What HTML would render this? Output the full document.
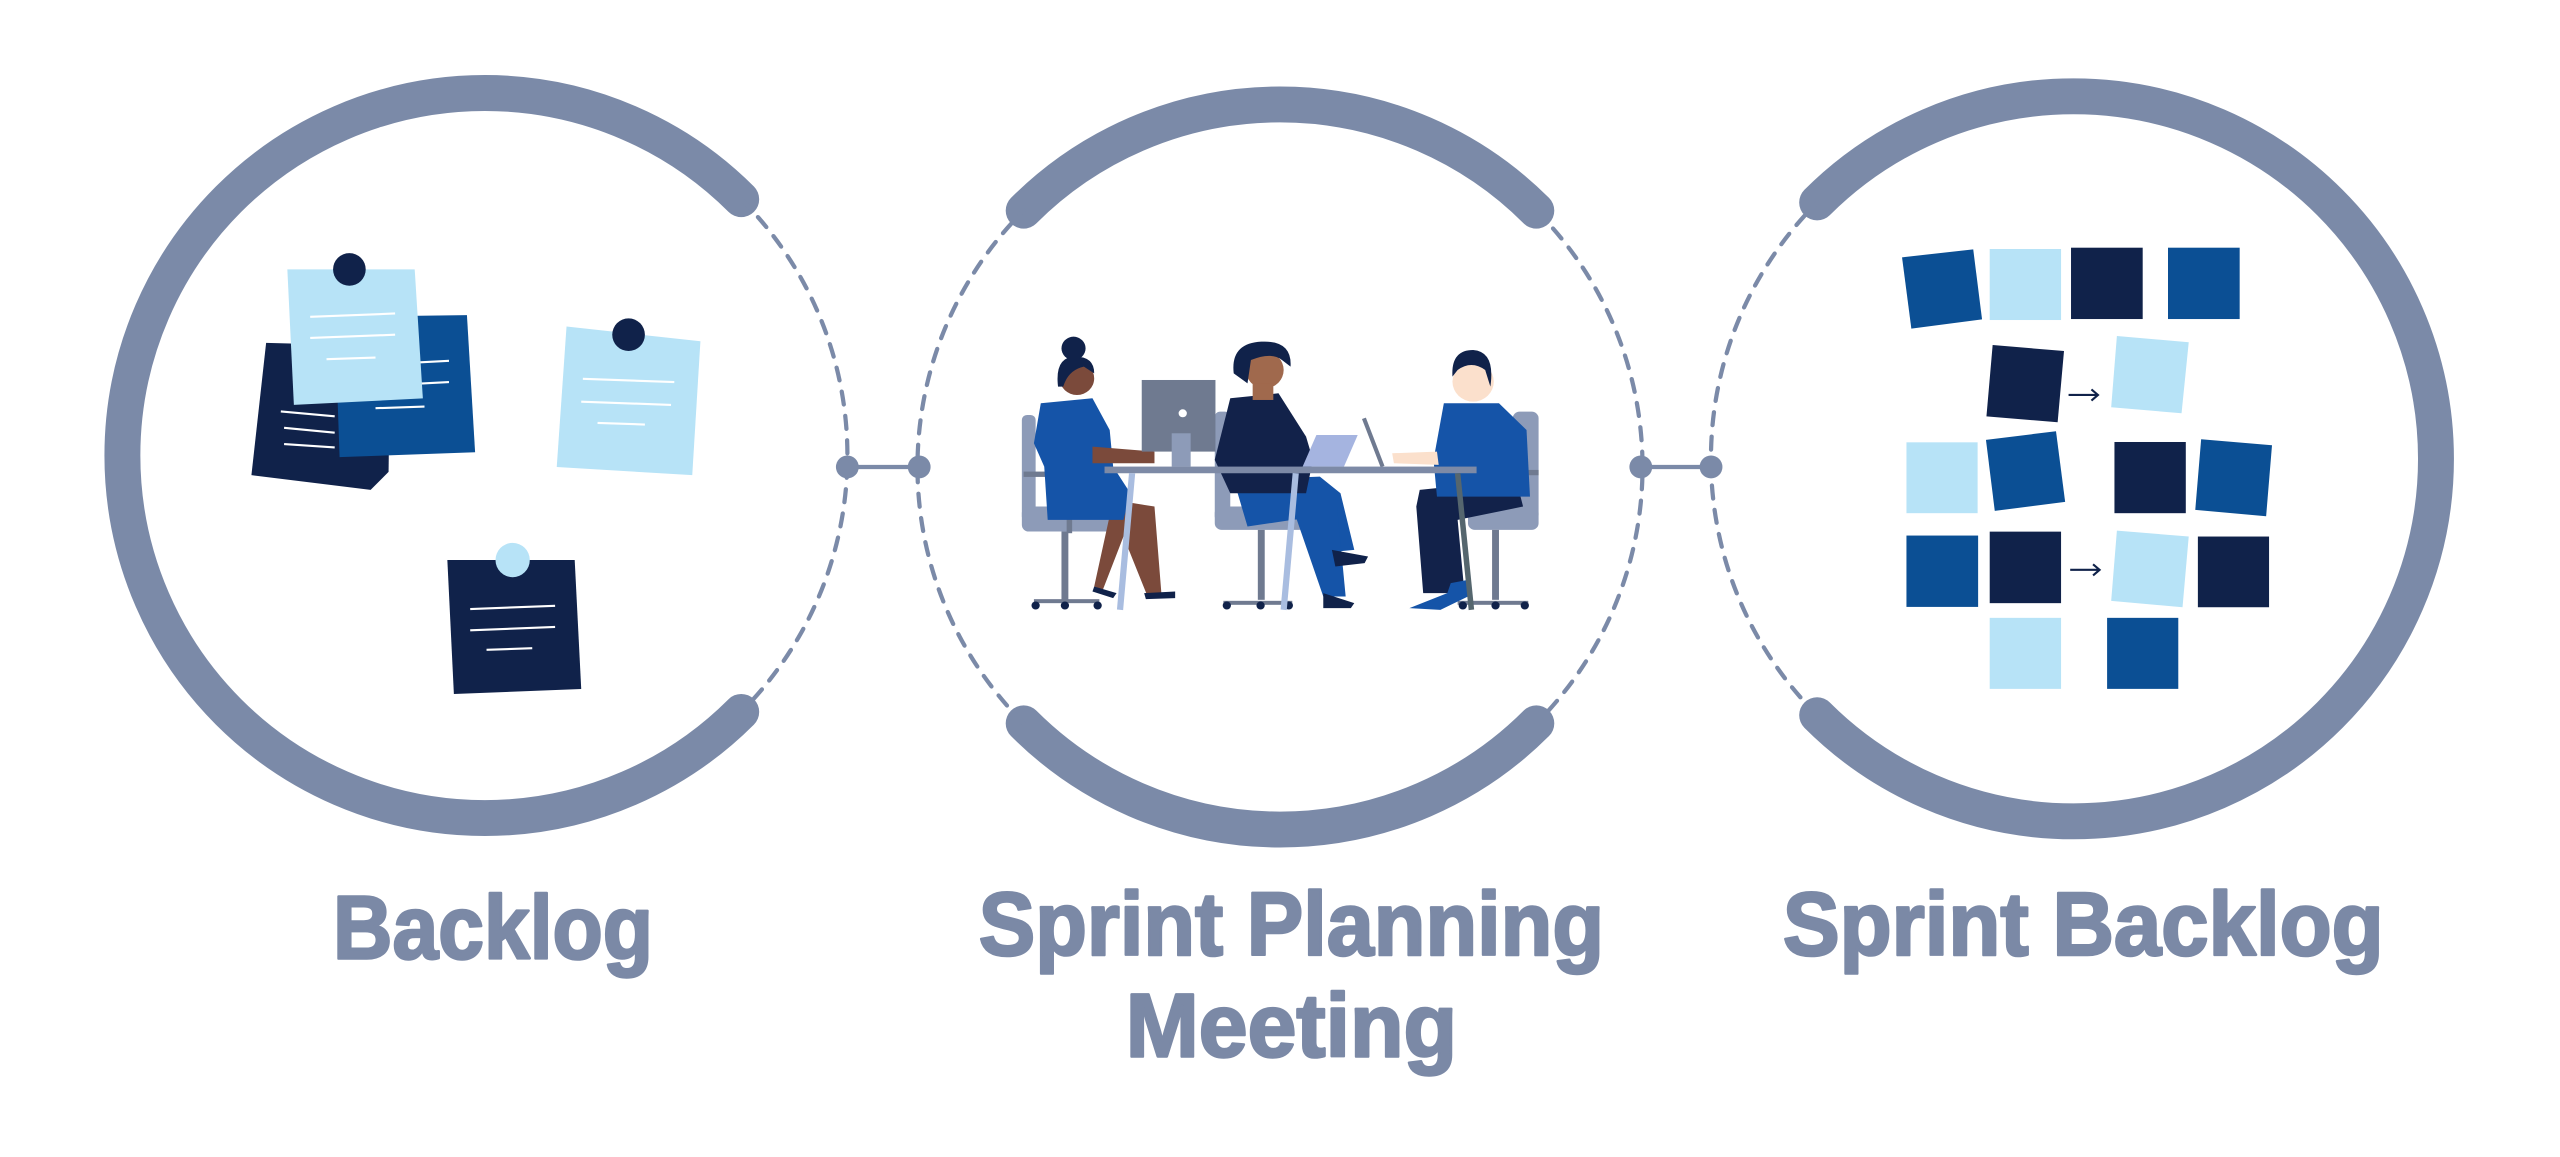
<!DOCTYPE html>
<html><head><meta charset="utf-8"><style>
html,body{margin:0;padding:0;background:#fff;width:2560px;height:1157px;overflow:hidden}
svg{display:block}
</style></head><body>
<svg width="2560" height="1157" viewBox="0 0 1568 708.6" preserveAspectRatio="none" xmlns="http://www.w3.org/2000/svg">
<rect width="1568" height="708.6" fill="#fff"/>
<g fill="none" stroke="#7b8aa8" stroke-linecap="round">
  <path d="M454,122 A222,222 0 1,0 454,436" stroke-width="22"/>
  <path d="M454,122 A222,222 0 0,1 454,436" stroke-width="2.6" stroke-dasharray="8 7"/>
  <path d="M627,129 A222,222 0 0,1 941,129" stroke-width="22"/>
  <path d="M941,443 A222,222 0 0,1 627,443" stroke-width="22"/>
  <path d="M627,443 A222,222 0 0,1 627,129" stroke-width="2.6" stroke-dasharray="8 7"/>
  <path d="M941,129 A222,222 0 0,1 941,443" stroke-width="2.6" stroke-dasharray="8 7"/>
  <path d="M1113,124 A222,222 0 1,1 1113,438" stroke-width="22"/>
  <path d="M1113,438 A222,222 0 0,1 1113,124" stroke-width="2.6" stroke-dasharray="8 7"/>
  <line x1="519" y1="286" x2="563" y2="286" stroke-width="2.6"/>
  <line x1="1005" y1="286" x2="1048" y2="286" stroke-width="2.6"/>
</g>
<g fill="#7b8aa8">
  <circle cx="519" cy="286" r="7"/><circle cx="563" cy="286" r="7"/>
  <circle cx="1005" cy="286" r="7"/><circle cx="1048" cy="286" r="7"/>
</g>

<polygon points="163,210 239,212 238,289 227,300 154,291" fill="#10224a"/>
<g stroke="#fff" stroke-width="1.3"><line x1="172" y1="252" x2="205" y2="255"/><line x1="174" y1="262" x2="205" y2="265"/><line x1="174" y1="272" x2="205" y2="274"/></g>
<polygon points="205,194 286,193 291,277 208,280" fill="#0b4f94"/>
<g stroke="#fff" stroke-width="1.3"><line x1="256" y1="222" x2="275" y2="221"/><line x1="256" y1="235" x2="275" y2="234"/><line x1="230" y1="250" x2="260" y2="249"/></g>
<polygon points="176,165 254,165 259,244 180,248" fill="#b7e3f7"/>
<g stroke="#fff" stroke-width="1.3"><line x1="190" y1="194" x2="242" y2="192"/><line x1="190" y1="207" x2="242" y2="205"/><line x1="200" y1="220" x2="230" y2="219"/></g>
<circle cx="214" cy="165" r="10" fill="#10224a"/>
<polygon points="347,200 429,209 424,291 341,286" fill="#b7e3f7"/>
<g stroke="#fff" stroke-width="1.3"><line x1="357" y1="232" x2="413" y2="234"/><line x1="356" y1="246" x2="411" y2="248"/><line x1="366" y1="259" x2="395" y2="260"/></g>
<circle cx="385" cy="205" r="10" fill="#10224a"/>
<polygon points="274,343 352,343 356,422 278,425" fill="#10224a"/>
<g stroke="#fff" stroke-width="1.3"><line x1="288" y1="373" x2="340" y2="371"/><line x1="288" y1="386" x2="340" y2="384"/><line x1="298" y1="398" x2="326" y2="397"/></g>
<circle cx="314" cy="343" r="10.5" fill="#b7e3f7"/>

<g>
<polygon points="1165,157.6 1208.6,152.7 1214,195.6 1170.7,201.3" fill="#0b4f94"/>
<rect x="1218.7" y="152.5" width="43.7" height="43.5" fill="#b7e3f7"/>
<rect x="1268.5" y="151.7" width="43.9" height="43.7" fill="#10224a"/>
<rect x="1327.9" y="151.7" width="43.9" height="43.7" fill="#0b4f94"/>
<polygon points="1220.5,211.3 1264.2,215 1260.3,258.6 1216.7,255" fill="#10224a"/>
<polygon points="1296.6,205.8 1340.6,209.6 1336.2,253.1 1293.1,249.4" fill="#b7e3f7"/>
<rect x="1167.7" y="270.9" width="43.6" height="43.4" fill="#b7e3f7"/>
<polygon points="1216.4,269.4 1259.3,264.1 1264.9,307.4 1221.8,312.9" fill="#0b4f94"/>
<rect x="1295.1" y="270.7" width="43.7" height="43.6" fill="#10224a"/>
<polygon points="1348.2,269 1391.6,272.7 1388,316.2 1344.6,312.3" fill="#0b4f94"/>
<rect x="1167.7" y="328" width="43.9" height="43.7" fill="#0b4f94"/>
<rect x="1218.7" y="325.6" width="43.7" height="43.8" fill="#10224a"/>
<polygon points="1296.6,325 1340.6,328.6 1336.8,371.9 1293.1,368" fill="#b7e3f7"/>
<rect x="1346.2" y="328.6" width="43.6" height="43.3" fill="#10224a"/>
<rect x="1218.7" y="378.4" width="43.7" height="43.5" fill="#b7e3f7"/>
<rect x="1290.6" y="378.4" width="43.6" height="43.5" fill="#0b4f94"/>
<g stroke="#10224a" stroke-width="1.3" fill="none"><path d="M1267,241.9 H1285 M1281,238.5 L1285,241.9 L1281,245.3"/><path d="M1268,349 H1286 M1282,345.6 L1286,349 L1282,352.4"/></g>
</g>

<g transform="translate(618.5,196) scale(0.211,0.204)">
  <g fill="#8d9bb8">
    <rect x="35" y="285" width="40" height="320" rx="15"/>
    <rect x="35" y="560" width="265" height="75" rx="20"/>
    <rect x="595" y="275" width="45" height="330" rx="15"/>
    <rect x="595" y="560" width="265" height="70" rx="20"/>
    <rect x="1460" y="275" width="75" height="330" rx="20"/>
    <rect x="1330" y="560" width="205" height="70" rx="20"/>
  </g>
  <g fill="#6f7a90">
    <rect x="40" y="455" width="145" height="16"/><rect x="165" y="455" width="16" height="185"/>
    <rect x="150" y="635" width="20" height="205"/><rect x="70" y="838" width="190" height="12"/>
    <rect x="720" y="630" width="20" height="210"/><rect x="620" y="843" width="200" height="12"/>
    <rect x="1400" y="630" width="20" height="210"/><rect x="1300" y="843" width="205" height="12"/>
    <rect x="1390" y="450" width="145" height="16"/>
  </g>
  <g fill="#10224a">
    <circle cx="75" cy="857" r="12"/><circle cx="160" cy="857" r="12"/><circle cx="255" cy="857" r="12"/>
    <circle cx="630" cy="857" r="12"/><circle cx="728" cy="857" r="12"/><circle cx="810" cy="857" r="12"/>
    <circle cx="1315" cy="857" r="12"/><circle cx="1410" cy="857" r="12"/><circle cx="1495" cy="857" r="12"/>
  </g>
  <path d="M300,540 L420,560 L440,820 L400,830 L330,650 L270,810 L245,800 Z" fill="#7b4a3b"/>
  <path d="M90,250 L240,235 L290,330 L300,440 L350,520 L330,600 L110,600 L100,440 L70,370 Z" fill="#1554a8"/>
  <path d="M240,380 L420,395 L420,430 L240,430 Z" fill="#7b4a3b"/>
  <circle cx="195" cy="175" r="50" fill="#7b4a3b"/>
  <path d="M140,200 Q130,110 190,110 Q245,110 245,160 L215,140 Q170,150 155,200 Z" fill="#10224a"/>
  <circle cx="185" cy="85" r="35" fill="#10224a"/>
  <path d="M245,800 L310,820 L300,835 L240,815 Z M390,820 L480,815 L480,835 L395,838 Z" fill="#10224a"/>
  <rect x="383" y="180" width="214" height="215" fill="#6f7a90"/>
  <rect x="470" y="340" width="55" height="100" fill="#8d9bb8"/>
  <circle cx="502" cy="280" r="12" fill="#fff"/>
  <path d="M650,480 L900,470 L960,520 L1000,690 L950,695 L920,590 L820,600 L690,620 Z" fill="#1554a8"/>
  <path d="M820,560 L950,560 L975,830 L910,830 Z" fill="#1554a8"/>
  <path d="M640,235 L780,220 L860,350 L880,420 L860,520 L640,520 L595,420 Z" fill="#12224a"/>
  <circle cx="740" cy="150" r="55" fill="#a0694d"/>
  <path d="M650,160 Q640,70 730,65 Q820,60 815,140 L790,120 Q760,95 700,120 L690,190 Z" fill="#10224a"/>
  <rect x="705" y="190" width="60" height="50" fill="#a0694d"/>
  <path d="M935,690 L1040,710 L1030,730 L945,740 Z M910,820 L1000,850 L990,865 L910,865 Z" fill="#10224a"/>
  <polygon points="890,345 1010,345 970,440 850,440" fill="#a5b4e0"/>
  <path d="M1190,510 L1470,480 L1490,560 L1300,600 L1320,820 L1200,820 L1180,560 Z" fill="#12224a"/>
  <path d="M1260,250 L1420,250 L1500,330 L1510,530 L1240,530 L1230,420 Z" fill="#1554a8"/>
  <path d="M1160,865 L1270,820 L1280,790 L1330,780 L1330,830 L1250,870 Z" fill="#1554a8"/>
  <circle cx="1345" cy="185" r="60" fill="#fbe0cc"/>
  <path d="M1285,170 Q1280,90 1345,90 Q1410,95 1395,200 L1380,150 Q1340,120 1300,150 Z" fill="#10224a"/>
  <path d="M1110,400 L1240,395 L1245,435 L1115,430 Z" fill="#fbe0cc"/>
  <line x1="1028" y1="295" x2="1082" y2="440" stroke="#6f7a90" stroke-width="12"/>
  <rect x="275" y="440" width="1080" height="20" fill="#7d8aa6"/>
  <line x1="355" y1="460" x2="320" y2="870" stroke="#a9bde0" stroke-width="18"/>
  <line x1="830" y1="460" x2="795" y2="870" stroke="#a9bde0" stroke-width="18"/>
  <line x1="1300" y1="460" x2="1340" y2="870" stroke="#55666e" stroke-width="16"/>
</g>

<g fill="#7b89a6" stroke="#7b89a6" stroke-width="1.6" stroke-linejoin="round" font-family="'Liberation Sans', sans-serif" font-weight="bold" font-size="55" text-anchor="middle">
  <text x="302" y="587" textLength="196" lengthAdjust="spacingAndGlyphs">Backlog</text>
  <text x="791" y="585" textLength="383" lengthAdjust="spacingAndGlyphs">Sprint Planning</text>
  <text x="791" y="647" textLength="203" lengthAdjust="spacingAndGlyphs">Meeting</text>
  <text x="1276" y="585" textLength="368" lengthAdjust="spacingAndGlyphs">Sprint Backlog</text>
</g>
</svg>
</body></html>
